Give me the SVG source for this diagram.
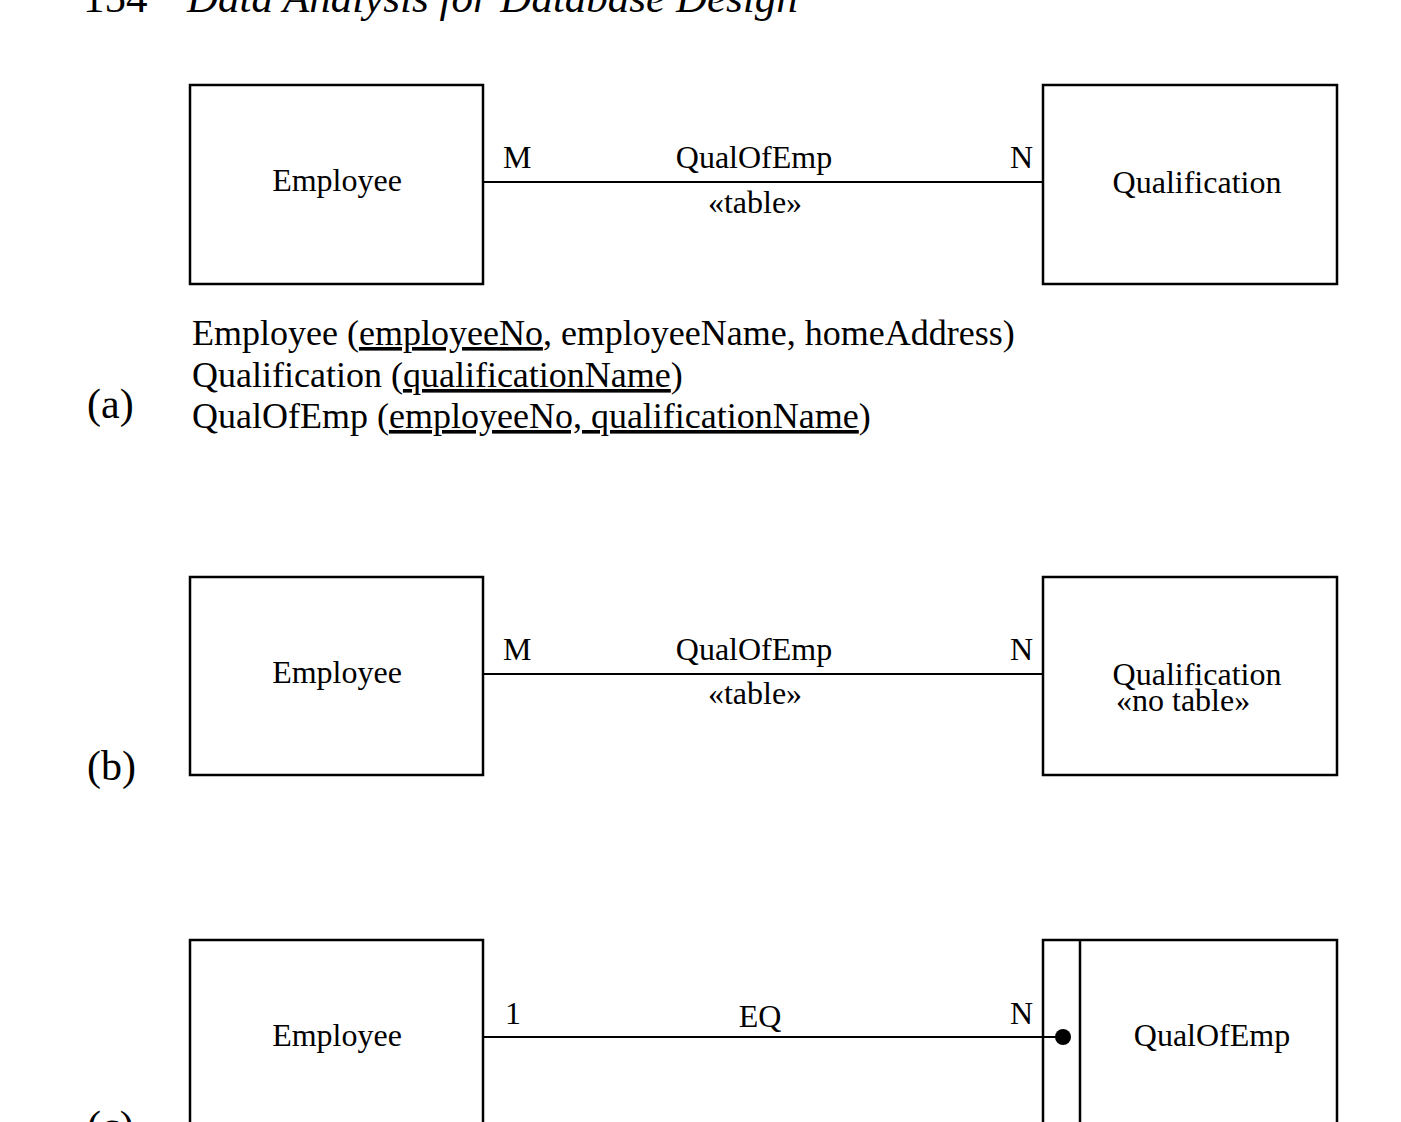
<svg xmlns="http://www.w3.org/2000/svg" width="1401" height="1122" viewBox="0 0 1401 1122">
<style>
.box{fill:none;stroke:#000;stroke-width:2.5}
.conn{stroke:#000;stroke-width:2;fill:none}
.t{font-family:"Liberation Serif","Times New Roman",serif;fill:#000}
.lbl{font-size:32px}
.rel{font-size:36px}
.cap{font-size:42px}
.mid{text-anchor:middle}
.u{text-decoration:underline}
</style>
<rect width="1401" height="1122" fill="#fff"/>
<g id="header">
<text class="t" x="83" y="12" font-size="43">154</text>
<text class="t" x="187" y="12" font-size="43" font-style="italic">Data Analysis for Database Design</text>
</g>
<g id="a-employee"><rect class="box" x="190" y="85" width="293" height="199"/><text class="t lbl mid" x="337" y="191">Employee</text></g>
<g id="a-qualification"><rect class="box" x="1043" y="85" width="294" height="199"/><text class="t lbl mid" x="1197" y="193">Qualification</text></g>
<g id="b-employee"><rect class="box" x="190" y="577" width="293" height="198"/><text class="t lbl mid" x="337" y="683">Employee</text></g>
<g id="b-qualification"><rect class="box" x="1043" y="577" width="294" height="198"/><text class="t lbl mid" x="1197" y="685">Qualification</text><text class="t lbl" x="1116" y="711">«no table»</text></g>
<g id="c-employee"><rect class="box" x="190" y="940" width="293" height="200"/><text class="t lbl mid" x="337" y="1046">Employee</text></g>
<g id="c-qualofemp"><rect class="box" x="1043" y="940" width="294" height="200"/><line class="box" x1="1080" y1="940" x2="1080" y2="1140"/><text class="t lbl mid" x="1212" y="1046">QualOfEmp</text></g>
<g id="connectors">
<line class="conn" x1="483" y1="182" x2="1043" y2="182" stroke-width="3"/>
<text class="t lbl" x="503" y="168">M</text>
<text class="t lbl mid" x="754" y="168">QualOfEmp</text>
<text class="t lbl" x="1010" y="168">N</text>
<text class="t lbl mid" x="755" y="213">«table»</text>
<line class="conn" x1="483" y1="674" x2="1043" y2="674"/>
<text class="t lbl" x="503" y="660">M</text>
<text class="t lbl mid" x="754" y="660">QualOfEmp</text>
<text class="t lbl" x="1010" y="660">N</text>
<text class="t lbl mid" x="755" y="704">«table»</text>
<line class="conn" x1="483" y1="1037" x2="1063" y2="1037"/>
<circle cx="1063" cy="1037" r="8" fill="#000"/>
<text class="t lbl" x="505" y="1024">1</text>
<text class="t lbl mid" x="760" y="1027">EQ</text>
<text class="t lbl" x="1010" y="1024">N</text>
</g>
<g id="relations">
<text class="t rel" x="192" y="345">Employee (<tspan class="u">employeeNo</tspan>, employeeName, homeAddress)</text>
<text class="t rel" x="192" y="387">Qualification (<tspan class="u">qualificationName</tspan>)</text>
<text class="t rel" x="192" y="428">QualOfEmp (<tspan class="u">employeeNo, qualificationName</tspan>)</text>
</g>
<g id="captions">
<text class="t cap" x="87" y="418">(a)</text>
<text class="t cap" x="87" y="780">(b)</text>
<text class="t cap" x="87" y="1140">(c)</text>
</g>
</svg>
